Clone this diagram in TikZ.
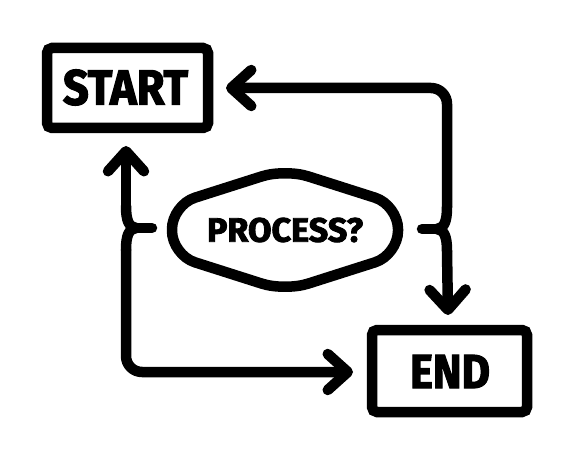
\documentclass[tikz,border=0pt]{standalone}
\usepackage{fontspec}
\setmainfont{Fira Sans}
\newfontfamily\hv{Fira Sans}[BoldFeatures={FakeBold=2.6}]
\usepackage{graphicx}
\usetikzlibrary{arrows.meta,calc}
\begin{document}
\begin{tikzpicture}[x=1pt,y=-1pt,
  line width=10.5pt,
  box/.style={draw,rounded corners=5pt,outer sep=0pt,inner sep=0pt},
  lbl/.style={inner sep=0pt,outer sep=0pt},
  conn/.style={draw,line cap=round,line join=round},
  chev/.style={-{Straight Barb[length=20pt,width=36pt,round]}}]
\useasboundingbox[fill=white] (0,0) rectangle (576,468);
% nodes
\node[box,minimum width=161pt,minimum height=80pt] (start) at (127.5,88) {};
\node[lbl] (starttxt) at (125.5,87.5) {\resizebox{125pt}{35pt}{\hv\bfseries START}};
\node[box,minimum width=155pt,minimum height=82pt] (end) at (449.5,371) {};
\node[lbl] (endtxt) at (450,371.5) {\resizebox{80pt}{33pt}{\hv\bfseries END}};
\node[lbl,minimum width=226pt,minimum height=122pt] (proc) at (285,230) {\resizebox{156pt}{24pt}{\hv\bfseries PROCESS?}};
\draw[line join=round,rounded corners=24pt]
  (285,169) -- (172,205) -- (172,255) -- (285,291) -- (398,255) -- (398,205) -- cycle;
% brace coordinates
\coordinate (rstub) at (422,229);
\coordinate (rpt) at (437,229);
\coordinate (lstub) at (152,228);
\coordinate (lpt) at (136,228);
\coordinate (tstart) at ($(start.east)+(18,0)$);
\coordinate (bstart) at ($(start.south)+(-1.5,18)$);
\coordinate (tend) at ($(end.north)+(-1.5,-15)$);
\coordinate (lend) at ($(end.west)+(-19,1)$);
% stubs
\draw[conn] (rstub) -- (rpt);
\draw[conn] (lstub) -- (lpt);
% right brace: up to START
\draw[conn] (rpt) .. controls (444,228) and (447,222) .. (447,207);
\draw[conn,chev,rounded corners=16pt] (447,207) -- (447,88) -- (tstart);
% right brace: down to END
\draw[conn] (rpt) .. controls (444,230) and (447,236) .. (447,251);
\draw[conn,chev] (447,251) -- (tend);
% left brace: up to START
\draw[conn] (lpt) .. controls (129,227) and (126,221) .. (126,206);
\draw[conn,chev] (126,206) -- (bstart);
% left brace: down to END
\draw[conn] (lpt) .. controls (129,229) and (126,235) .. (126,250);
\draw[conn,chev,rounded corners=16pt] (126,250) -- (126,372) -- (lend);
\end{tikzpicture}
\end{document}
